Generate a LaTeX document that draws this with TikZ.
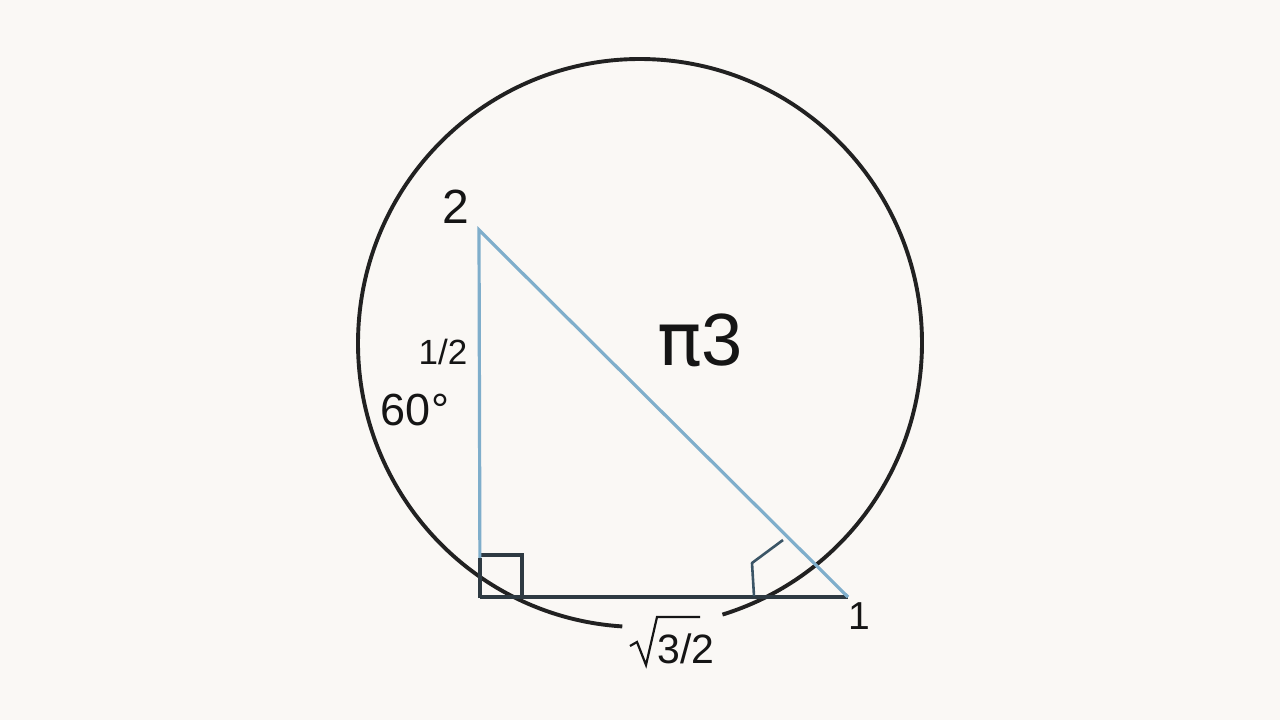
\documentclass[tikz,border=0pt]{standalone}
\usepackage{fontspec}
\setmainfont{Liberation Sans}
\newfontfamily\djv{DejaVu Sans}
\definecolor{bgc}{HTML}{FAF8F5}
\definecolor{ink}{HTML}{151515}
\definecolor{triblue}{HTML}{7FAECB}
\definecolor{basec}{HTML}{2E3A42}
\definecolor{markc}{HTML}{3B5566}
\begin{document}
\begin{tikzpicture}[x=1pt,y=-1pt,
  lbl/.style={inner sep=0pt, text=ink},
  circ/.style={draw=ink!95!white, line width=3.9pt},
  leg/.style={draw=triblue, line width=3.2pt, line join=miter},
  basel/.style={draw=basec, line width=3.3pt},
  marker/.style={draw=markc, line width=2.6pt, line join=round}]
\fill[bgc] (0,0) rectangle (1280,720);
\useasboundingbox (0,0) rectangle (1280,720);
% circle with gap at the bottom
\coordinate (O) at (640,343);
\draw[circ] ([shift={(93.6:282 and 284)}]O) arc[start angle=93.6, end angle=433, x radius=282, y radius=284];
% triangle vertices
\coordinate (T) at (479,230);
\coordinate (B) at (480,597);
\coordinate (R) at (848,597);
% right-angle square
\coordinate (S1) at (480,555);
\coordinate (S2) at (522,555);
\coordinate (S3) at (522,597);
\draw[basel] (S1) -- (S2) -- (S3);
% legs
\draw[basel] (B) -- (R);
\draw[leg] (B) -- (T) -- (R);
\draw[basel] (480,598) -- (480,558);
% angle mark near vertex 1
\coordinate (M1) at (754,596);
\coordinate (M2) at (752,563);
\coordinate (M3) at (783,540);
\draw[marker] (M1) -- (M2) -- (M3);
% labels
\node[lbl, font=\fontsize{48}{48}\selectfont] (l2) at (456,207) {2};
\node[lbl, font=\fontsize{39}{39}\selectfont] (l1) at (859,616) {1};
\node[lbl, font=\fontsize{35}{35}\selectfont] (lhalf) at (443,352) {1/2};
\node[lbl, font=\fontsize{45}{45}\selectfont] (l60) at (415,410) {60°};
\node[lbl, font=\fontsize{74}{74}\selectfont] (lpi) at (700,340) {{\djv π}3};
\node[lbl, font=\fontsize{41}{41}\selectfont] (l32) at (686,649) {3/2};
\coordinate (r1) at (630,646);
\coordinate (r2) at (637,642);
\coordinate (r3) at (646,665);
\coordinate (r4) at (657,617);
\coordinate (r5) at (700,617);
\draw[draw=ink, line width=2.2pt, line join=miter] (r1) -- (r2) -- (r3) -- (r4) -- (r5);
\end{tikzpicture}
\end{document}
